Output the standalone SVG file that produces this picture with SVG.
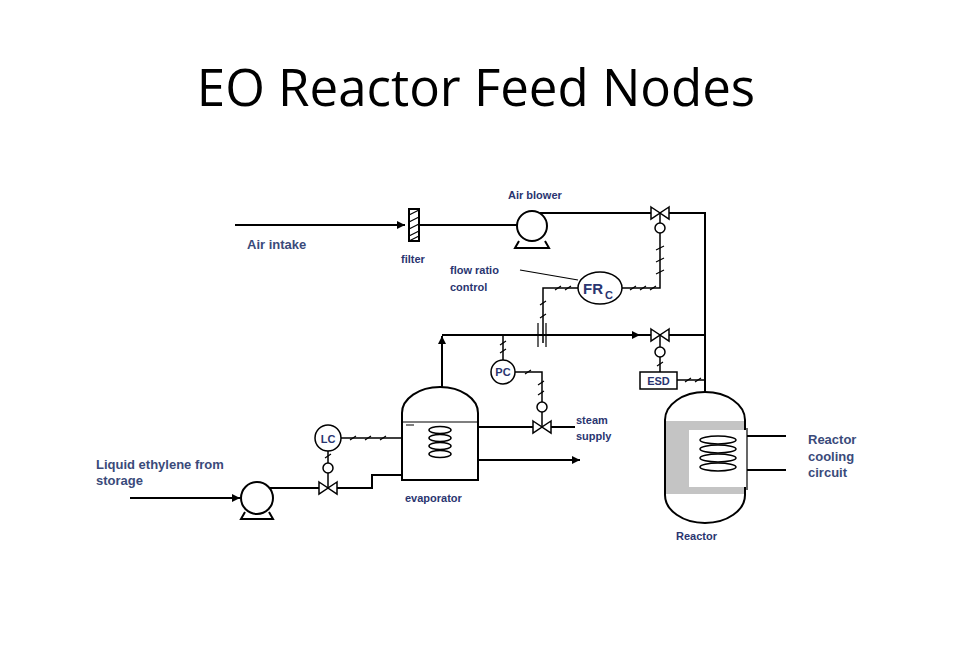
<svg xmlns="http://www.w3.org/2000/svg" width="953" height="653" viewBox="0 0 953 653">
<defs>
<marker id="ar" viewBox="0 0 10 10" refX="10" refY="5" markerWidth="16" markerHeight="8" markerUnits="userSpaceOnUse" orient="auto"><path d="M0,0L10,5L0,10z" fill="#000"/></marker>
<style>
.p{fill:none;stroke:#000;stroke-width:2}
.s{fill:none;stroke:#000;stroke-width:1.5}
.t{fill:none;stroke:#000;stroke-width:1.2}
.lb{font-family:"Liberation Sans",Arial,sans-serif;font-weight:bold;fill:#2a3570;font-size:11px}
.lb2{font-family:"Liberation Sans",Arial,sans-serif;font-weight:bold;fill:#3a4a7a;font-size:13px}
.eq{fill:#fff;stroke:#000;stroke-width:2}
</style>
</defs>
<rect width="953" height="653" fill="#fff"/>
<text x="476" y="106" text-anchor="middle" font-family="Open Sans,Liberation Sans,sans-serif" font-size="51" fill="#000">EO Reactor Feed Nodes</text>

<g id="connectors">
<path class="p" d="M235,225H405" marker-end="url(#ar)"/>
<path class="p" d="M420,225H517"/>
<path class="p" d="M540,213H705V395"/>
<path class="p" d="M442,395V336"/>
<path class="p" d="M442,352V336" marker-end="url(#ar)"/>
<path class="p" d="M442,335H640" marker-end="url(#ar)"/>
<path class="p" d="M640,335H705"/>
<path class="p" d="M440,427H575"/>
<path class="p" d="M440,460H580" marker-end="url(#ar)"/>
<path class="p" d="M130,498H240" marker-end="url(#ar)"/>
<path class="p" d="M270,488H372V475H402"/>
<path class="p" d="M718,436H786M718,470H786"/>
<path class="s" d="M660,233V288H622M578,288H543V343"/>
<path class="s" d="M503,335V360M515,372H542V402"/>
<path class="s" d="M328,451V463M341,438H402"/>
<path class="s" d="M660,357V372M677,380H705"/>
<path class="t" d="M538,323V347M546,323V347"/>
<path class="t" d="M656,250l8,-4M656,262l8,-4M656,274l8,-4M640,290l6,-4M650,290l6,-4M630,290l6,-4M555,290l6,-4M565,290l6,-4M540,305l6,-4M540,318l6,-4M500,345l6,-4M500,353l6,-4M525,374l6,-4M538,385l6,-4M538,395l6,-4M350,440l6,-4M365,440l6,-4M380,440l6,-4M325,458l6,-4M685,382l6,-4M695,382l6,-4M657,366l6,-4"/>
<path class="t" d="M520,270L578,280"/>
</g>

<g id="filter"><rect x="409" y="209" width="10" height="32" fill="#fff" stroke="#000" stroke-width="2"/><path class="t" d="M409,215l10,-5M409,222l10,-5M409,229l10,-5M409,236l10,-5M409,241l10,-5"/></g>
<g id="blower"><path class="p" d="M519,241L515,248H549L545,241"/><circle class="eq" cx="532" cy="226" r="15"/></g>
<g id="valve1"><path d="M651,207L660,213L651,219zM669,207L660,213L669,219z" fill="#fff" stroke="#000" stroke-width="1.5"/><path class="s" d="M660,213V223"/><circle cx="660" cy="228" r="5" fill="#fff" stroke="#000" stroke-width="1.5"/></g>
<g id="valve2"><path d="M651,329L660,335L651,341zM669,329L660,335L669,341z" fill="#fff" stroke="#000" stroke-width="1.5"/><path class="s" d="M660,335V347"/><circle cx="660" cy="352" r="5" fill="#fff" stroke="#000" stroke-width="1.5"/></g>
<g id="frc"><ellipse cx="600" cy="288" rx="22" ry="16" fill="#fff" stroke="#000" stroke-width="1.5"/><text x="583" y="294" font-family="Liberation Sans,sans-serif" font-weight="bold" font-size="15" fill="#2a3570">FR</text><text x="605" y="299" font-family="Liberation Sans,sans-serif" font-weight="bold" font-size="11" fill="#2a3570">C</text></g>
<g id="esd"><rect x="640" y="372" width="37" height="17" fill="#fff" stroke="#000" stroke-width="1.5"/><text x="658.5" y="385" text-anchor="middle" class="lb">ESD</text></g>
<g id="pc"><circle cx="503" cy="372" r="12" fill="#fff" stroke="#000" stroke-width="1.5"/><text x="503" y="376" text-anchor="middle" class="lb">PC</text></g>
<g id="steamvalve"><path d="M533,421L542,427L533,433zM551,421L542,427L551,433z" fill="#fff" stroke="#000" stroke-width="1.5"/><path class="s" d="M542,412V427"/><circle cx="542" cy="407" r="5" fill="#fff" stroke="#000" stroke-width="1.5"/></g>
<g id="evaporator"><path class="eq" d="M402,413A38,26 0 0 1 478,413V480H402Z"/><path class="t" d="M402,422H478M406,425h8"/><g class="s"><ellipse cx="440" cy="430" rx="11" ry="3.5"/><ellipse cx="440" cy="438" rx="11" ry="3.5"/><ellipse cx="440" cy="446" rx="11" ry="3.5"/><ellipse cx="440" cy="454" rx="11" ry="3.5"/></g></g>
<g id="lc"><circle cx="328" cy="438" r="13" fill="#fff" stroke="#000" stroke-width="1.5"/><text x="328" y="443" text-anchor="middle" class="lb" font-size="13">LC</text><circle cx="328" cy="468" r="5" fill="#fff" stroke="#000" stroke-width="1.5"/><path class="s" d="M328,473V488"/><path d="M319,482L328,488L319,494zM337,482L328,488L337,494z" fill="#fff" stroke="#000" stroke-width="1.5"/></g>
<g id="pump"><path class="p" d="M245,512L241,519H273L269,512"/><circle class="eq" cx="257" cy="498" r="16"/></g>
<g id="reactor"><path class="eq" d="M665,420A40,28 0 0 1 745,420V495A40,28 0 0 1 665,495Z"/><rect x="666" y="421" width="78" height="73" fill="#c4c4c4"/><rect x="689" y="430" width="58" height="57" fill="#fff"/><path class="t" d="M747,428V490"/><g class="s"><ellipse cx="718" cy="440" rx="18" ry="4"/><ellipse cx="718" cy="449" rx="18" ry="4"/><ellipse cx="718" cy="458" rx="18" ry="4"/><ellipse cx="718" cy="467" rx="18" ry="4"/></g></g>

<g id="labels">
<text x="508" y="199" class="lb" font-size="12">Air blower</text>
<text x="247" y="249" class="lb2">Air intake</text>
<text x="401" y="263" class="lb" font-size="10">filter</text>
<text x="450" y="274" class="lb">flow ratio</text>
<text x="450" y="291" class="lb">control</text>
<text x="576" y="424" class="lb">steam</text>
<text x="576" y="440" class="lb">supply</text>
<text x="96" y="469" class="lb2">Liquid ethylene from</text>
<text x="96" y="485" class="lb2">storage</text>
<text x="405" y="502" class="lb">evaporator</text>
<text x="676" y="540" class="lb" font-size="12">Reactor</text>
<text x="808" y="444" class="lb2">Reactor</text>
<text x="808" y="461" class="lb2">cooling</text>
<text x="808" y="477" class="lb2">circuit</text>
</g>
</svg>
